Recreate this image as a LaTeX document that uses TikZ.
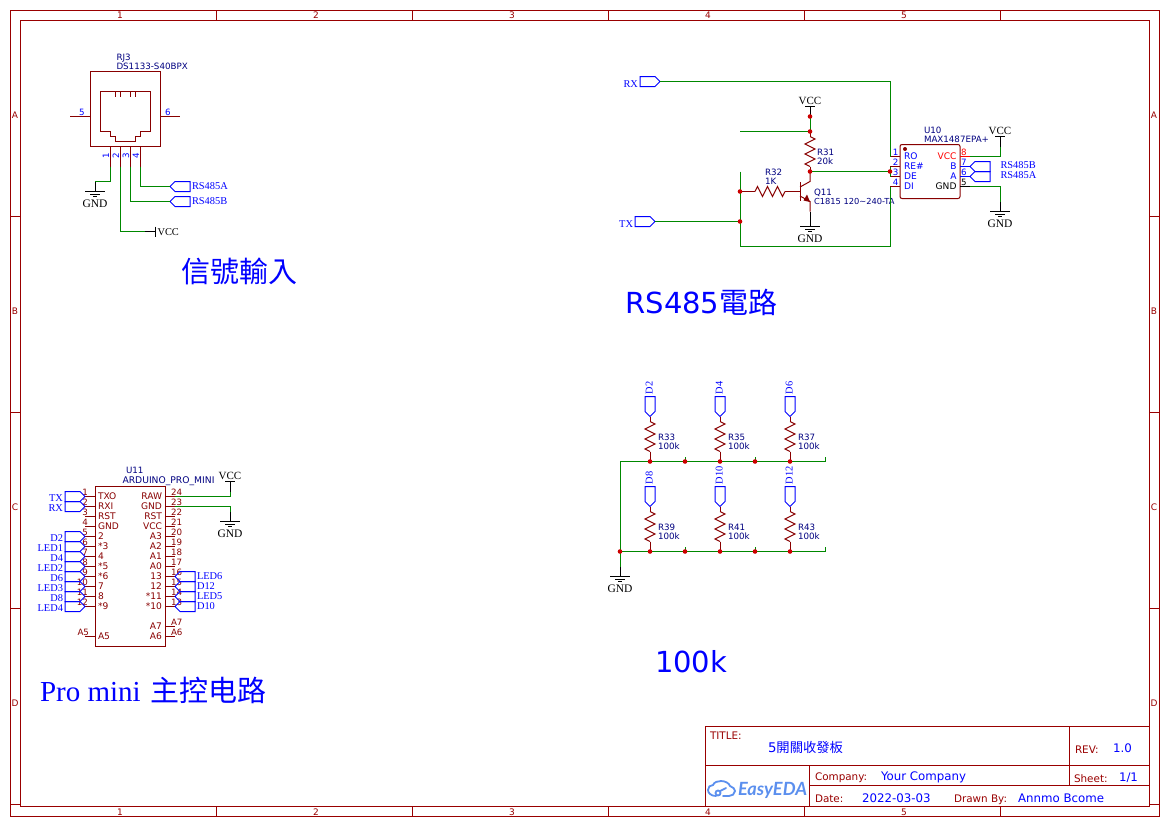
\documentclass[tikz,border=0pt]{standalone}
\usepackage{fontspec}
\setmainfont{Liberation Serif}
\setsansfont{DejaVu Sans}
\newfontfamily\cjktc{Noto Sans CJK TC}
\newfontfamily\cjksc{Noto Sans CJK SC}
\newfontfamily\logofont{Lato}
\definecolor{framered}{HTML}{990000}
\definecolor{comp}{HTML}{880000}
\definecolor{wiregreen}{HTML}{008800}
\definecolor{netblue}{HTML}{0000FF}
\definecolor{refblue}{HTML}{000080}
\definecolor{jctred}{HTML}{CC0000}
\definecolor{logoblue}{HTML}{5B8FEE}
\newcommand{\fs}[1]{\fontsize{#1}{#1}\selectfont}
\tikzset{
    border/.style={draw=framered,line width=1pt},
    part/.style={draw=comp,line width=1pt},
    wire/.style={draw=wiregreen,line width=1pt},
    sym/.style={draw=black,line width=1pt},
    netline/.style={draw=netblue,line width=1pt},
    logoline/.style={draw=logoblue,line width=1.8pt,line cap=round},
    txt/.style={inner sep=0pt,outer sep=0pt,anchor=base west},
    txtr/.style={inner sep=0pt,outer sep=0pt,anchor=base east},
    txtc/.style={inner sep=0pt,outer sep=0pt,anchor=base},
    frametxt/.style={font=\sffamily\fs{9},text=framered},
    refdes/.style={font=\sffamily\fs{8.7},text=refblue},
    pinname/.style={font=\sffamily\fs{9.1},text=comp},
    pinnum/.style={font=\sffamily\fs{8.7},text=comp},
    bluepin/.style={font=\sffamily\fs{8.7},text=netblue},
    bluename/.style={font=\sffamily\fs{9.1},text=netblue},
    netname/.style={font=\fs{10.4},text=netblue},
    pwrname/.style={font=\fs{11.5},text=black},
    bigtxt/.style={font=\sffamily\fs{29},text=netblue},
    blocklbl/.style={font=\sffamily\fs{10.4},text=framered},
    blockval/.style={font=\sffamily\fs{11.8},text=netblue},
    % Resistor running in +y, from -a to -b
    res/.pic={
        \coordinate (-a) at (0,0);
        \coordinate (-b) at (0,30);
        \draw[part] (-a) -- (5,2.5) -- (-5,7.5) -- (5,12.5) -- (-5,17.5) -- (5,22.5) -- (-5,27.5) -- (-b);
    },
    % Net flag, tip at the origin
    netflag/.pic={
        \coordinate (-tip) at (0,0);
        \draw[netline] (-tip) -- (5,-5) -- (20,-5) -- (20,5) -- (5,5) -- cycle;
    },
    gnd/.pic={
        \coordinate (-in) at (0,-10);
        \draw[sym] (-in) -- (0,0) (-10,0) -- (10,0) (-5,2.5) -- (5,2.5) (-2,5) -- (2,5);
    },
    vcc/.pic={
        \coordinate (-in) at (0,10);
        \draw[sym] (-in) -- (0,0) (-5,0) -- (5,0);
    }
}

\begin{document}
\begin{tikzpicture}[x=1pt,y=-1pt]
    \useasboundingbox (0,0) rectangle (1169,827);

    % Drawing frame
    \draw[border] (10,10.5) rectangle (1159,816.5);
    \draw[border] (20,20.5) rectangle (1149,806.5);
    \foreach \x [count=\i] in {120,316,512,708,904}
    {
        \node[txtc,frametxt] (coltop\i) at (\x,18.8) {\i};
        \node[txtc,frametxt] (colbot\i) at (\x,815) {\i};
    }
    \foreach \x in {216,412,608,804,1000}
    {
        \draw[border] (\x,10.5) -- (\x,20.5) (\x,806.5) -- (\x,816.5);
    }
    \foreach \y/\l in {115/A,311/B,507/C,703/D}
    {
        \node[txtc,frametxt] (rowl\l) at (15,\y+3.5) {\l};
        \node[txtc,frametxt] (rowr\l) at (1154,\y+3.5) {\l};
    }
    \foreach \y in {216.5,412.5,608.5,804.5}
    {
        \draw[border] (10,\y) -- (20,\y) (1149,\y) -- (1159,\y);
    }

    % Title block
    \draw[border] (705,726.5) rectangle (1149,806.5);
    \draw[border] (705,765.5) -- (1149,765.5) (809,785.5) -- (1149,785.5);
    \draw[border] (1069,726.5) -- (1069,785.5) (809,765.5) -- (809,806.5);
    \node[txt,blocklbl] (ttitle) at (710,739) {TITLE:};
    \node[txt,font=\sffamily\fs{13.3},text=netblue] (tname) at (768,752) {5{\cjktc 開關收發板}};
    \node[txt,blocklbl] (trev) at (1075,753) {REV:};
    \node[txt,blockval] (trevval) at (1113,752.5) {1.0};
    \node[txt,blocklbl] (tcomp) at (815,780) {Company:};
    \node[txt,blockval] (tcompval) at (881,780) {Your Company};
    \node[txt,blocklbl] (tsheet) at (1074,782) {Sheet:};
    \node[txt,blockval] (tsheetval) at (1119,781.5) {1/1};
    \node[txt,blocklbl] (tdate) at (815,802) {Date:};
    \node[txt,blockval] (tdateval) at (862,802) {2022-03-03};
    \node[txt,blocklbl] (tdrawn) at (954,802) {Drawn By:};
    \node[txt,blockval] (tdrawnval) at (1018,802) {Annmo Bcome};
    % Logo
    \draw[logoline] (716,796) .. controls (711,796) and (708,793) .. (708,790) .. controls (708,787) and (710,785) .. (713,785)
        .. controls (714,782) and (718,781) .. (721,781) .. controls (725,781) and (729,783) .. (730,786)
        .. controls (733,787) and (735,789) .. (735,791) .. controls (735,794) and (732,796) .. (729,796) -- (723,796);
    \draw[logoline] (718,793) circle (2.5) (720,791) -- (726,788);
    \node[txt,font=\logofont\bfseries\itshape\fs{18.2},text=logoblue] (tlogo) at (738,795) {EasyEDA};

    % RJ3 connector
    \node[txt,refdes] (rjref) at (116.5,60) {RJ3};
    \node[txt,refdes] (rjval) at (116.5,69.5) {DS1133-S40BPX};
    \draw[part] (90,71.5) rectangle (160,146.5);
    \draw[part] (100,131.5) -- (100,91.5) -- (150,91.5) -- (150,131.5) -- (140,131.5) -- (140,136.5) -- (135,136.5)
        -- (135,141.5) -- (115,141.5) -- (115,136.5) -- (110,136.5) -- (110,131.5) -- cycle;
    \foreach \x in {115,120,130,135}
    {
        \draw[part] (\x,91.5) -- (\x,96.5);
    }
    \draw[part] (70,116.5) -- (90,116.5) (160,116.5) -- (180,116.5);
    \node[txt,bluepin] (rjn5) at (79,115) {5};
    \node[txt,bluepin] (rjn6) at (165,115) {6};
    \foreach \i/\x in {1/110,2/120,3/130,4/140}
    {
        \coordinate (rjp\i) at (\x,166.5);
        \draw[part] (\x,146.5) -- (rjp\i);
        \node[txt,bluepin,rotate=90] (rjn\i) at (\x-1,158.5) {\i};
    }
    \pic (rjgnd) at (95,191.5) {gnd};
    \node[txtc,pwrname] (rjgndt) at (95,207.5) {GND};
    \draw[wire] (rjp1) |- (rjgnd-in);
    \pic[rotate=-90] (rjvcc) at (155,231.5) {vcc};
    \node[txt,font=\fs{10.4}] (rjvcct) at (157.5,235) {VCC};
    \draw[wire] (rjp2) |- (rjvcc-in);
    \pic (rjb) at (170,201.5) {netflag};
    \node[txt,netname] (rjbt) at (192,204.5) {RS485B};
    \draw[wire] (rjp3) |- (rjb-tip);
    \pic (rja) at (170,186.5) {netflag};
    \node[txt,netname] (rjat) at (192,189.5) {RS485A};
    \draw[wire] (rjp4) |- (rja-tip);

    \node[txt,bigtxt] (rjtitle) at (181,282) {\cjktc 信號輸入};

    % RS485 transceiver
    \node[txt,refdes] (u10ref) at (924,133.3) {U10};
    \node[txt,refdes] (u10val) at (924,142) {MAX1487EPA+};
    \draw[part,rounded corners=2pt] (900,144.5) rectangle (960,198.5);
    \fill[comp] (905,149) circle (2);
    \foreach \i/\t in {1/RO,2/RE\#,3/DE,4/DI}
    {
        \pgfmathsetmacro{\py}{146.5+10*\i}
        \coordinate (u10l\i) at (890,\py);
        \draw[part] (u10l\i) -- (900,\py);
        \node[txtr,bluepin] (u10ln\i) at (898.5,\py-1) {\i};
        \node[txt,bluename] (u10lt\i) at (904,\py+3.2) {\t};
    }
    \foreach \i/\t/\c [count=\k] in {8/VCC/red,7/B/netblue,6/A/netblue,5/GND/black}
    {
        \pgfmathsetmacro{\py}{146.5+10*\k}
        \coordinate (u10r\i) at (970,\py);
        \draw[draw=\c,line width=1pt] (960,\py) -- (u10r\i);
        \node[txt,font=\sffamily\fs{8.7},text=\c] (u10rn\i) at (961,\py-1) {\i};
        \node[txtr,font=\sffamily\fs{9.1},text=\c] (u10rt\i) at (956.5,\py+3.2) {\t};
    }
    \pic (u10vcc) at (1000,136.5) {vcc};
    \node[txtc,font=\fs{11}] (u10vcct) at (1000,134.5) {VCC};
    \draw[wire] (u10r8) -| (u10vcc-in);
    \pic (u10gnd) at (1000,211.5) {gnd};
    \node[txtc,pwrname] (u10gndt) at (1000,227.5) {GND};
    \draw[wire] (u10r5) -| (u10gnd-in);
    \pic (u10b) at (970,166.5) {netflag};
    \pic (u10a) at (970,176.5) {netflag};
    \node[txt,netname] (u10bt) at (1000.5,168.5) {RS485B};
    \node[txt,netname] (u10at) at (1000.5,178.5) {RS485A};

    % Driver transistor and resistors
    \pic (vcctop) at (810,106.5) {vcc};
    \node[txtc,font=\fs{11}] (vcctopt) at (810,104.5) {VCC};
    \coordinate (jvcc) at (810,116.5);
    \coordinate (jr31) at (810,131.5);
    \coordinate (jc) at (810,171.5);
    \coordinate (j23) at (890,171.5);
    \coordinate (jb) at (740,191.5);
    \coordinate (jtx) at (740,221.5);
    \coordinate (wtop) at (740,131.5);
    \coordinate (btop) at (740,171.5);
    \coordinate (bbot) at (740,246.5);
    \draw[wire] (jvcc) -- (jr31) (wtop) -- (jr31);
    \pic (r31) at (810,136.5) {res};
    \draw[part] (jr31) -- (r31-a) (r31-b) -- (jc);
    \node[txt,refdes] (r31ref) at (817,155) {R31};
    \node[txt,refdes] (r31val) at (817,164.5) {20k};
    \draw[wire] (jc) -- (j23) (u10l2) -- (u10l3);
    \pic[rotate=90] (r32) at (755,191.5) {res};
    \node[txt,refdes] (r32ref) at (765,175) {R32};
    \node[txt,refdes] (r32val) at (765,184) {1K};
    \coordinate (qb) at (800,191.5);
    \coordinate (qe) at (810,201.5);
    \coordinate (qee) at (810,211.5);
    \draw[part] (jb) -- (r32-a) (r32-b) -- (qb);
    \draw[part] (800,182) -- (800,201);
    \draw[part] (jc) -- (810,181.5) -- (800,187);
    \draw[part] (800,196) -- (qe) -- (qee);
    \fill[comp] (810,202) -- (803.5,200.5) -- (807,194.5) -- cycle;
    \node[txt,refdes] (q11ref) at (814,195) {Q11};
    \node[txt,refdes,font=\sffamily\fs{8.3}] (q11val) at (814,204.5) {C1815 120\textasciitilde 240-TA};
    \pic (q11gnd) at (810,226.5) {gnd};
    \draw[sym] (qee) -- (q11gnd-in);
    \node[txtc,pwrname] (q11gndt) at (810,242.5) {GND};
    \draw[wire] (btop) -- (bbot) -| (u10l4);
    \pic[rotate=180] (rx) at (660,81.5) {netflag};
    \node[txtr,netname] (rxt) at (638,87) {RX};
    \draw[wire] (rx-tip) -| (u10l1);
    \pic[rotate=180] (tx) at (655,221.5) {netflag};
    \node[txtr,netname] (txt) at (633,227) {TX};
    \draw[wire] (tx-tip) -- (jtx);
    \foreach \j in {jvcc,jr31,jc,j23,jb,jtx}
    {
        \fill[jctred] (\j) circle (2.3);
    }

    \node[txt,bigtxt] (rstitle) at (625.5,313) {RS485{\cjktc 電路}};

    % Pro mini
    \node[txt,refdes] (u11ref) at (126,473.5) {U11};
    \node[txt,refdes,font=\sffamily\fs{9.2}] (u11val) at (122.5,483.5) {ARDUINO\_PRO\_MINI};
    \draw[part] (95,486.5) rectangle (165,646.5);
    \foreach \i/\t in {1/TXO,2/RXI,3/RST,4/GND,5/2,6/*3,7/4,8/*5,9/*6,10/7,11/8,12/*9}
    {
        \pgfmathsetmacro{\py}{486.5+10*\i}
        \coordinate (u11l\i) at (85,\py);
        \draw[part] (u11l\i) -- (95,\py);
        \node[txtr,pinnum] (u11ln\i) at (88,\py-1) {\i};
        \node[txt,pinname] (u11lt\i) at (98,\py+3.2) {\t};
    }
    \foreach \n/\t [count=\k] in {24/RAW,23/GND,22/RST,21/VCC,20/A3,19/A2,18/A1,17/A0,16/13,15/12,14/*11,13/*10}
    {
        \pgfmathsetmacro{\py}{486.5+10*\k}
        \coordinate (u11r\n) at (175,\py);
        \draw[part] (165,\py) -- (u11r\n);
        \node[txt,pinnum] (u11rn\n) at (171,\py-1) {\n};
        \node[txtr,pinname] (u11rt\n) at (162,\py+3.2) {\t};
    }
    \draw[part] (85,636.5) -- (95,636.5) (165,626.5) -- (175,626.5) (165,636.5) -- (175,636.5);
    \node[txt,pinname] (u11a5) at (98,639.7) {A5};
    \node[txtr,pinname] (u11a7) at (162,629.7) {A7};
    \node[txtr,pinname] (u11a6) at (162,639.7) {A6};
    \node[txtr,pinnum] (u11n5) at (89,635.5) {A5};
    \node[txt,pinnum] (u11n7) at (171,625.5) {A7};
    \node[txt,pinnum] (u11n6) at (171,635.5) {A6};
    \foreach \i/\t in {1/TX,2/RX,5/D2,6/LED1,7/D4,8/LED2,9/D6,10/LED3,11/D8,12/LED4}
    {
        \pic[rotate=180] (fl\i) at (u11l\i) {netflag};
        \node[txtr,netname] (flt\i) at ([yshift=-5pt]u11l\i-|63,0) {\t};
    }
    \foreach \i/\t in {16/LED6,15/D12,14/LED5,13/D10}
    {
        \pic (fr\i) at (u11r\i) {netflag};
        \node[txt,netname] (frt\i) at ([yshift=-3pt]u11r\i-|197,0) {\t};
    }
    \pic (u11vcc) at (230,481.5) {vcc};
    \node[txtc,font=\fs{11}] (u11vcct) at (230,479) {VCC};
    \draw[wire] (u11r24) -| (u11vcc-in);
    \pic (u11gnd) at (230,521.5) {gnd};
    \node[txtc,pwrname] (u11gndt) at (230,537.5) {GND};
    \draw[wire] (u11r23) -| (u11gnd-in);

    \node[txt,font=\fs{29},text=netblue] (protitle) at (40,701) {Pro mini\hspace{2.5pt} {\sffamily\cjksc 主控电路}};

    % Pull-down resistor array
    \coordinate (busa) at (620,461.5);
    \coordinate (busb) at (620,551.5);
    \coordinate (busaend) at (825,461.5);
    \coordinate (busbend) at (825,551.5);
    \draw[wire] (busa) -- (busaend) -- ++(0,-5) (busb) -- (busbend) -- ++(0,-5);
    \foreach \x in {685,755}
    {
        \draw[wire] (\x,461.5) -- (\x,456.5) (\x,551.5) -- (\x,546.5);
    }
    \pic (bgnd) at (620,576.5) {gnd};
    \node[txtc,pwrname] (bgndt) at (620,592.5) {GND};
    \draw[wire] (busa) -- (bgnd-in);
    \foreach \x/\ra/\na/\rb/\nb in {650/33/D2/39/D8,720/35/D4/41/D10,790/37/D6/43/D12}
    {
        % Upper row
        \pic[rotate=90] (fa\ra) at (\x,416.5) {netflag};
        \node[txt,netname,rotate=90] (fat\ra) at (\x+2.5,394.5) {\na};
        \pic (r\ra) at (\x,421.5) {res};
        \coordinate (ja\ra) at (\x,461.5);
        \draw[part] (fa\ra-tip) -- (r\ra-a) (r\ra-b) -- (ja\ra);
        \node[txt,refdes] (rr\ra) at (\x+8,440) {R\ra};
        \node[txt,refdes] (rv\ra) at (\x+8,449) {100k};
        % Lower row
        \pic[rotate=90] (fb\rb) at (\x,506.5) {netflag};
        \node[txt,netname,rotate=90] (fbt\rb) at (\x+2.5,484.5) {\nb};
        \pic (r\rb) at (\x,511.5) {res};
        \coordinate (jb\rb) at (\x,551.5);
        \draw[part] (fb\rb-tip) -- (r\rb-a) (r\rb-b) -- (jb\rb);
        \node[txt,refdes] (rr\rb) at (\x+8,530) {R\rb};
        \node[txt,refdes] (rv\rb) at (\x+8,539) {100k};
    }
    \foreach \x/\y in {650/461.5,685/461.5,720/461.5,755/461.5,790/461.5,620/551.5,650/551.5,685/551.5,720/551.5,755/551.5,790/551.5}
    {
        \fill[jctred] (\x,\y) circle (2.3);
    }

    \node[txt,bigtxt] (restitle) at (655,672) {100k};
\end{tikzpicture}
\end{document}
